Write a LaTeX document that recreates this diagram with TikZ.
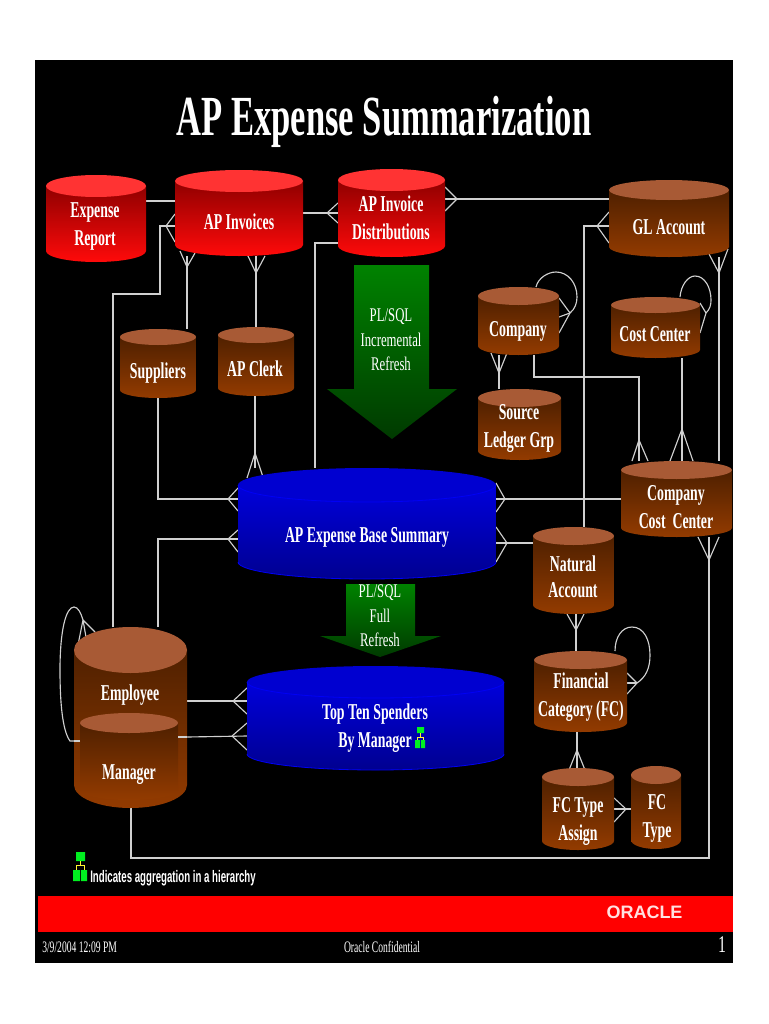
\documentclass[tikz,border=0pt]{standalone}
\usepackage{fontspec}
\usetikzlibrary{backgrounds}
\setmainfont{Liberation Serif}
\newfontfamily\condf[FakeStretch=0.61]{Liberation Serif}
\newfontfamily\condreg[FakeStretch=0.66]{Liberation Serif}
\newfontfamily\condfoot[FakeStretch=0.6]{Liberation Serif}
\newfontfamily\condsans[FakeStretch=0.58]{Liberation Sans}
\newfontfamily\widesans[FakeStretch=1.0]{Liberation Sans}
\definecolor{linecol}{HTML}{D0D0D0}
\definecolor{redface}{HTML}{FF3333}
\definecolor{redtop}{HTML}{8F0000}
\definecolor{redbot}{HTML}{FF0A0A}
\definecolor{brface}{HTML}{A85A35}
\definecolor{brtop}{HTML}{4F2000}
\definecolor{brbot}{HTML}{933B00}
\definecolor{bluetop}{HTML}{0000DC}
\definecolor{bluebot}{HTML}{000090}
\definecolor{blueface}{HTML}{0000D0}
\definecolor{blueedge}{HTML}{0000F5}
\definecolor{grntop}{HTML}{008200}
\definecolor{grnbot}{HTML}{003A00}
\definecolor{icong}{HTML}{00F020}
\tikzset{
  conn/.style={draw=linecol,line width=0.85pt,line join=miter},
  cylbox/.style={inner sep=0pt,outer sep=0pt},
  lab/.style={text=white,align=center,inner sep=0pt,font=\condf\bfseries\fontsize{17}{21}\selectfont},
  arrowlab/.style={text=white,align=center,inner sep=0pt,font=\condreg\fontsize{14.5}{18.3}\selectfont},
  foot/.style={text=white,inner sep=0pt,font=\condfoot\fontsize{12}{14}\selectfont},
  rim/.style={draw=blueedge,line width=0.6pt}
}
% name x0 x1 ytop ybot ry bodytop bodybot face
\newcommand\cylin[9]{%
  \pgfmathsetmacro\cylcx{(#2+#3)/2}%
  \pgfmathsetmacro\cylcy{(#4+#5)/2}%
  \pgfmathsetmacro\cylw{(#3-#2)*0.75}%
  \pgfmathsetmacro\cylh{(#5-#4)*0.75}%
  \pgfmathsetmacro\cylrx{(#3-#2)*0.375}%
  \pgfmathsetmacro\cylry{#6*0.75}%
  \pgfmathsetmacro\cylup{#4+#6}%
  \pgfmathsetmacro\cyldn{#5-#6}%
  \shade[top color=#7,bottom color=#8]
    (#2,\cylup) -- (#2,\cyldn)
    arc[start angle=180,end angle=360,x radius=\cylrx pt,y radius=\cylry pt]
    -- (#3,\cylup) -- cycle;
  \fill[#9] (\cylcx,\cylup) ellipse[x radius=\cylrx pt,y radius=\cylry pt];
  \node[cylbox,minimum width=\cylw pt,minimum height=\cylh pt] (#1) at (\cylcx,\cylcy) {};
}
% rim lines of the blue cylinders: x0 x1 yupper ylower rx ry (pt)
\newcommand\bluerim[6]{%
  \draw[rim] (#1,#3) arc[start angle=180,end angle=360,x radius=#5 pt,y radius=#6 pt];
  \draw[rim] (#1,#4) arc[start angle=180,end angle=360,x radius=#5 pt,y radius=#6 pt];
}
\newcommand\crow[6]{\draw[conn] (#1,#2) -- (#3,#4) (#1,#2) -- (#5,#6);}
\begin{document}
\begin{tikzpicture}[x=0.75pt,y=-0.75pt]
\useasboundingbox (0,0) rectangle (768,1024);
% ---- shapes (main layer)
\cylin{er}{46}{146}{175}{262}{11}{redtop}{redbot}{redface}
\cylin{inv}{175}{303}{170}{256}{11}{redtop}{redbot}{redface}
\cylin{dist}{338}{445}{169}{257}{11}{redtop}{redbot}{redface}
\cylin{gl}{609}{729}{180}{257}{10}{brtop}{brbot}{brface}
\cylin{comp}{478}{559}{287}{355}{9}{brtop}{brbot}{brface}
\cylin{cc}{611}{700}{297}{358}{8}{brtop}{brbot}{brface}
\cylin{src}{478}{561}{389}{460}{9}{brtop}{brbot}{brface}
\cylin{sup}{120}{196}{329}{398}{8}{brtop}{brbot}{brface}
\cylin{clerk}{218}{294}{327}{396}{8}{brtop}{brbot}{brface}
\cylin{base}{238}{496}{468}{579}{17}{bluetop}{bluebot}{blueface}
\bluerim{238}{496}{485}{562}{96.75}{12.75}
\cylin{top}{247}{504}{666}{770}{16}{bluetop}{bluebot}{blueface}
\bluerim{247}{504}{682}{754}{96.4}{12}
\cylin{ccc}{621}{732}{461}{537}{9}{brtop}{brbot}{brface}
\cylin{nat}{533}{614}{527}{614}{9}{brtop}{brbot}{brface}
\cylin{fin}{534}{627}{651}{732}{9}{brtop}{brbot}{brface}
\cylin{fta}{542}{614}{768}{850}{9}{brtop}{brbot}{brface}
\cylin{ft}{631}{681}{766}{849}{9}{brtop}{brbot}{brface}
\cylin{emp}{74}{187}{627}{808}{23}{brtop}{brbot}{brface}
\cylin{mgr}{80}{178}{713}{800}{10}{brtop}{brbot}{brface}
% green arrows
\shade[top color=grntop,bottom color=grnbot] (354,265) -- (429,265) -- (429,389) -- (457,389) -- (392,439) -- (327,389) -- (354,389) -- cycle;
\shade[top color=grntop,bottom color=grnbot] (346,584) -- (415,584) -- (415,636) -- (441,636) -- (380,657) -- (320,636) -- (346,636) -- cycle;
% labels
\node[lab] (t1) at (95,226) {Expense\\Report};
\node[lab] (t2) at (239,222) {AP Invoices};
\node[lab] (t3) at (391,218) {AP Invoice\\Distributions};
\node[lab] (t4) at (669,227) {GL Account};
\node[lab] (t5) at (518,331) {Company};
\node[lab] (t6) at (655,334) {Cost Center};
\node[lab] (t7) at (519,428.5) {Source\\Ledger Grp};
\node[lab] (t8) at (158,373) {Suppliers};
\node[lab] (t9) at (255,369) {AP Clerk};
\node[lab] (t10) at (367,537) {AP Expense Base Summary};
\node[lab] (t11) at (375,728) {Top Ten Spenders\\By Manager};
\node[lab] (t12) at (676,507) {Company\\Cost\ \ Center};
\node[lab] (t13) at (573,577) {Natural\\[-1.5pt]Account};
\node[lab] (t14) at (581,697) {Financial\\Category (FC)};
\node[lab] (t15) at (578,821) {FC Type\\Assign};
\node[lab] (t16) at (657,818.5) {FC\\Type};
\node[lab] (t17) at (130,695) {Employee};
\node[lab] (t18) at (129,775) {Manager};
\node[arrowlab] (a1) at (391,340) {PL/SQL\\Incremental\\Refresh};
\node[arrowlab] (a2) at (380,616) {PL/SQL\\Full\\Refresh};
% aggregation icons
\fill[icong] (417,727) rectangle (424,733) (415,740) rectangle (420,748) (421,740) rectangle (425,748);
\draw[yellow!80!white,line width=0.4pt] (420.5,733) -- (420.5,737) (417.5,740) -- (417.5,737) -- (423,737) -- (423,740);
\fill[icong] (76,852) rectangle (85,861) (73,870) rectangle (80,881) (81,870) rectangle (87,881);
\draw[yellow!80!white,line width=0.5pt] (80.5,861) -- (80.5,865) (76.5,870) -- (76.5,865) -- (84,865) -- (84,870);
\node[anchor=west,text=white,inner sep=0pt,font=\condsans\bfseries\fontsize{12.5}{14}\selectfont] (leg) at (90,878) {Indicates aggregation in a hierarchy};
% footer
\fill[red] (38,896) rectangle (733,932);
\node[anchor=center,text=red!12!white,inner sep=0pt,font=\widesans\bfseries\fontsize{13.5}{15}\selectfont] (logo) at (644.5,912) {ORACLE};
\node[foot,anchor=west] (f1) at (42,947) {3/9/2004 12:09 PM};
\node[foot] (f2) at (382,947) {Oracle Confidential};
\node[foot,font=\condreg\fontsize{18}{20}\selectfont] (f3) at (722,945) {1};
\node[text=white,inner sep=0pt,font=\condf\bfseries\fontsize{42.5}{46}\selectfont] (title) at (384,122) {AP Expense Summarization};
% connector stubs that lie over the Employee cylinder
\draw[conn] (mgr.east |- 0,737) -- (emp.east |- 0,737);
\draw[conn] (mgr.west |- 0,741) -- (emp.west |- 0,741);
% ---- background + connectors
\begin{pgfonlayer}{background}
\fill[white] (0,0) rectangle (768,1024);
\fill[black] (35,60) rectangle (733,963);
% 1 report - invoices
\draw[conn] (er.east |- 0,201) -- (inv.west |- 0,201);
% 2 invoices - distributions
\draw[conn] (inv.east |- 0,213) -- (dist.west |- 0,213);
\crow{327}{213}{338}{203}{338}{223}
% 3 employee - invoices
\draw[conn] (emp.north -| 113,0) -- (113,294) -- (160,294) -- (160,226) -- (inv.west |- 0,226);
\crow{166}{226}{175}{214}{175}{242}
% 4 suppliers - invoices
\draw[conn] (sup.north -| 187,0) -- (inv.south -| 187,0);
\crow{187}{267}{180}{251}{195}{253}
% 5 clerk - invoices
\draw[conn] (clerk.north -| 256,0) -- (inv.south -| 256,0);
\crow{256}{273}{248}{256}{265}{256}
% 6 clerk - base
\draw[conn] (clerk.south -| 255,0) -- (base.north -| 255,0);
\crow{255}{453}{247}{478}{263}{477}
% 7 suppliers - base
\draw[conn] (sup.south -| 158,0) -- (158,499) -- (base.west |- 0,499);
\crow{228}{499}{238}{488}{238}{511}
% 8 employee - base
\draw[conn] (emp.north -| 158,0) -- (158,539) -- (base.west |- 0,539);
\crow{228}{539}{238}{530}{238}{552}
% 9 distributions - base
\draw[conn] (dist.west |- 0,243) -- (315,243) -- (base.north -| 315,0);
% 10 distributions - GL
\draw[conn] (dist.east |- 0,199) -- (gl.west |- 0,199);
\crow{457}{199}{445}{187}{445}{211}
% 11 natural - GL
\draw[conn] (nat.north -| 584,0) -- (584,226) -- (gl.west |- 0,226);
\crow{597}{226}{609}{212}{609}{243}
% 12 CCC - GL
\draw[conn] (gl.south -| 719,0) -- (ccc.north -| 719,0);
\crow{719}{273}{709}{254}{728}{249}
% 13 company self
\draw[conn] (comp.north -| 536,0) .. controls (538,278) and (548,272) .. (556,272) .. controls (568,272) and (577,283) .. (577,297) .. controls (577,303) and (575,309) .. (570,313);
\crow{570}{313}{559}{298}{559}{333}
\draw[conn] (570,313) -- (comp.east |- 0,317);
% 14 cost center self
\draw[conn] (cc.north -| 680,0) .. controls (681,285) and (688,276) .. (695,276) .. controls (705,276) and (711,288) .. (711,300) .. controls (711,305) and (710,309) .. (706,313);
\crow{706}{313}{700}{303}{700}{333}
% 15 company - source
\draw[conn] (comp.south -| 499,0) -- (src.north -| 499,0);
\crow{499}{373}{491}{353}{507}{353}
% 16 company - CCC
\draw[conn] (comp.south -| 534,0) -- (534,377) -- (639,377) -- (ccc.north -| 639,0);
\crow{639}{440}{632}{461}{648}{461}
% 17 cost center - CCC
\draw[conn] (cc.south -| 682,0) -- (ccc.north -| 682,0);
\crow{682}{429}{670}{461}{693}{461}
% 18 CCC - base
\draw[conn] (ccc.west |- 0,499) -- (base.east |- 0,499);
\crow{505}{499}{496}{483}{496}{512}
% 19 natural - base
\draw[conn,line width=1.1pt] (nat.west |- 0,543) -- (base.east |- 0,543);
\crow{507}{543}{496}{527}{496}{562}
% 20 CCC - manager
\draw[conn] (ccc.south -| 709,0) -- (709,858) -- (131,858) -- (emp.south -| 131,0);
\crow{709}{560}{698}{537}{719}{537}
% 21 natural - financial
\draw[conn] (nat.south -| 576,0) -- (fin.north -| 576,0);
\crow{576}{630}{567}{614}{584}{614}
% 22 financial self
\draw[conn] (fin.north -| 615,0) .. controls (615,637) and (622,627) .. (632,627) .. controls (644,627) and (650,640) .. (650,655) .. controls (650,668) and (646,677) .. (637,683);
\crow{637}{683}{627}{673}{627}{694}
\draw[conn] (637,683) -- (fin.east |- 0,683);
% 23 financial - FC type assign
\draw[conn] (fin.south -| 577,0) -- (fta.north -| 577,0);
\crow{577}{750}{569}{770}{585}{770}
% 24 assign - type
\draw[conn] (fta.east |- 0,809) -- (ft.west |- 0,809);
\crow{626}{809}{614}{798}{614}{822}
% 25 employee - top ten
\draw[conn] (emp.east |- 0,701) -- (top.west |- 0,701);
\crow{233}{701}{247}{688}{247}{714}
% 26 manager - top ten
\draw[conn] (emp.east |- 0,737) -- (top.west |- 0,736);
\crow{232}{736}{247}{723}{247}{750}
% 27 employee self
\draw[conn] (emp.west |- 0,741) -- (70,741) .. controls (62,730) and (60,700) .. (60,670) .. controls (60,630) and (66,607) .. (74,607) .. controls (78,607) and (81,613) .. (83,620);
\draw[conn] (83,620) -- (78,645) (83,620) -- (86,637) (83,620) -- (95,632);
\end{pgfonlayer}
\end{tikzpicture}
\end{document}
